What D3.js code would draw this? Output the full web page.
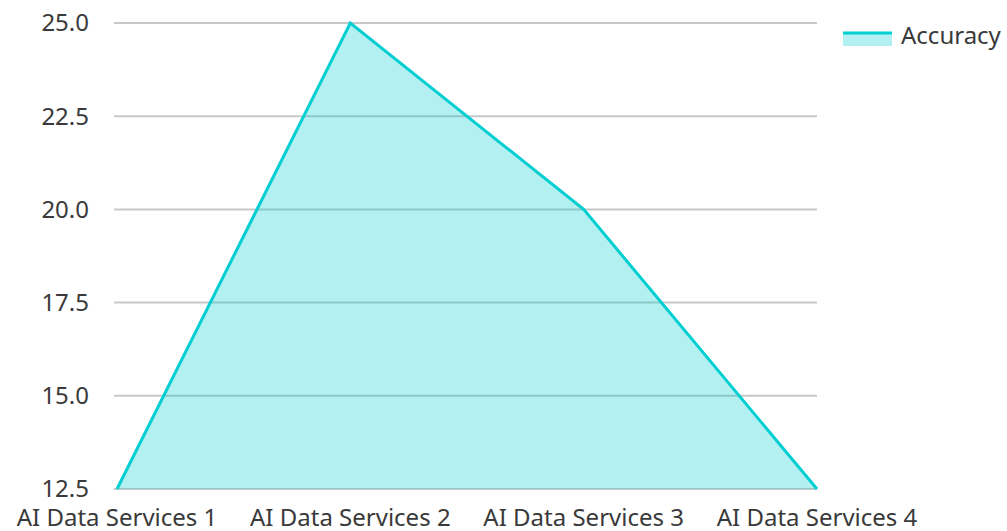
<!DOCTYPE html>
<html>
<head>
<meta charset="utf-8">
<script src="https://cdn.jsdelivr.net/npm/d3@7"></script>
<style>
  body { margin: 0; background: #fff; }
  text { font-family: "Noto Sans", sans-serif; fill: #3a3a3a; }
</style>
</head>
<body>
<div id="chart"></div>
<script>
const categories = ["AI Data Services 1", "AI Data Services 2", "AI Data Services 3", "AI Data Services 4"];
const accuracy = [12.5, 25, 20, 12.5];
const yTicks = [12.5, 15, 17.5, 20, 22.5, 25];
const seriesName = "Accuracy";

const W = 1007, H = 531;
const margin = { top: 23, right: 190, bottom: 42, left: 117 };
const width = W - margin.left - margin.right;
const height = H - margin.top - margin.bottom;
const lineColor = "#00CED1";

const svg = d3.select("#chart").append("svg")
  .attr("width", W).attr("height", H);
const g = svg.append("g").attr("transform", `translate(${margin.left},${margin.top})`);

const x = d3.scalePoint().domain(categories).range([0, width]);
const y = d3.scaleLinear().domain([12.5, 25]).range([height, 0]);

const data = categories.map((c, i) => ({ c, v: accuracy[i] }));

// gridlines (under the fill)
g.selectAll(".grid").data(yTicks).enter().append("line")
  .attr("x1", -3).attr("x2", width)
  .attr("y1", d => y(d)).attr("y2", d => y(d))
  .attr("stroke", "#c8c8c8").attr("stroke-width", 2);

// area fill
g.append("path")
  .datum(data)
  .attr("fill", lineColor)
  .attr("fill-opacity", 0.3)
  .attr("d", d3.area().x(d => x(d.c)).y0(y(12.5)).y1(d => y(d.v)));

// line
g.append("path")
  .datum(data)
  .attr("fill", "none")
  .attr("stroke", lineColor)
  .attr("stroke-width", 3)
  .attr("d", d3.line().x(d => x(d.c)).y(d => y(d.v)));

// y labels
g.selectAll(".ylab").data(yTicks).enter().append("text")
  .attr("x", -28).attr("y", d => y(d)).attr("dy", "0.35em")
  .attr("text-anchor", "end").attr("font-size", 24)
  .text(d => d.toFixed(1));

// x labels
g.selectAll(".xlab").data(categories).enter().append("text")
  .attr("x", d => x(d)).attr("y", height + 37)
  .attr("text-anchor", "middle").attr("font-size", 24)
  .text(d => d);

// legend
const lg = svg.append("g").attr("transform", "translate(843,36)");
lg.append("rect").attr("x", 0).attr("y", -3).attr("width", 49).attr("height", 13)
  .attr("fill", lineColor).attr("fill-opacity", 0.3);
lg.append("line").attr("x1", 0).attr("x2", 49).attr("y1", -3).attr("y2", -3)
  .attr("stroke", lineColor).attr("stroke-width", 3);
lg.append("text").attr("x", 58).attr("y", 0).attr("dy", "0.35em")
  .attr("font-size", 24).text(seriesName);
</script>
</body>
</html>
